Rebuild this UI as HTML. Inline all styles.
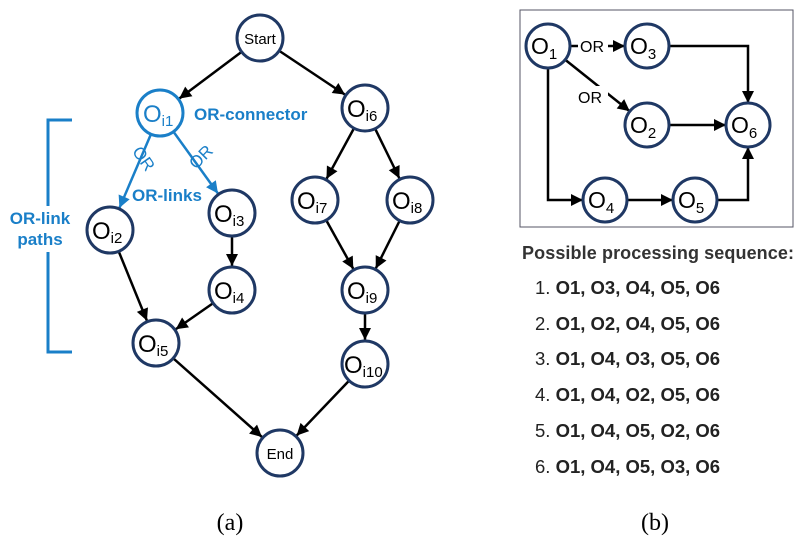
<!DOCTYPE html>
<html><head><meta charset="utf-8"><style>
body{margin:0;background:#fff}
svg{display:block}
text{font-family:"Liberation Sans","DejaVu Sans",sans-serif}
</style></head><body>
<svg width="801" height="543" viewBox="0 0 801 543" xmlns="http://www.w3.org/2000/svg">
<defs>
<marker id="a" markerUnits="userSpaceOnUse" markerWidth="60" markerHeight="20" viewBox="0 0 60 20" refX="36" refY="10" orient="auto" overflow="visible"><path d="M0,4 L12,10 L0,16 Z" fill="#000"/></marker>
<marker id="ab" markerUnits="userSpaceOnUse" markerWidth="60" markerHeight="20" viewBox="0 0 60 20" refX="36" refY="10" orient="auto" overflow="visible"><path d="M0,4 L12,10 L0,16 Z" fill="#1a7fc8"/></marker>
<marker id="c" markerUnits="userSpaceOnUse" markerWidth="60" markerHeight="20" viewBox="0 0 60 20" refX="34" refY="10" orient="auto" overflow="visible"><path d="M0,4 L12,10 L0,16 Z" fill="#000"/></marker>
</defs>
<g stroke="#000" stroke-width="2.5" fill="none">
<line x1="260" y1="38" x2="160" y2="113" marker-end="url(#a)"/>
<line x1="260" y1="38" x2="365" y2="108" marker-end="url(#a)"/>
<line x1="365" y1="108" x2="315" y2="200" marker-end="url(#a)"/>
<line x1="365" y1="108" x2="410" y2="200" marker-end="url(#a)"/>
<line x1="315" y1="200" x2="365" y2="290" marker-end="url(#a)"/>
<line x1="410" y1="200" x2="365" y2="290" marker-end="url(#a)"/>
<line x1="365" y1="290" x2="365" y2="364" marker-end="url(#a)"/>
<line x1="365" y1="364" x2="280" y2="453" marker-end="url(#a)"/>
<line x1="156" y1="343" x2="280" y2="453" marker-end="url(#a)"/>
<line x1="110" y1="230" x2="156" y2="343" marker-end="url(#a)"/>
<line x1="232" y1="213" x2="232" y2="290" marker-end="url(#a)"/>
<line x1="232" y1="290" x2="156" y2="343" marker-end="url(#a)"/>
</g>
<g stroke="#1a7fc8" stroke-width="2.5" fill="none">
<line x1="160" y1="113" x2="110" y2="230" marker-end="url(#ab)"/>
<line x1="160" y1="113" x2="232" y2="213" marker-end="url(#ab)"/>
<path d="M72,120 H48 V352 H72" stroke-width="3"/>
</g>
<rect x="14" y="206" width="64" height="46" fill="#fff"/>
<g fill="#fff" stroke="#1f3864" stroke-width="3">
<circle cx="260" cy="38" r="23"/>
<circle cx="365" cy="108" r="23"/>
<circle cx="110" cy="230" r="23"/>
<circle cx="232" cy="213" r="23"/>
<circle cx="315" cy="200" r="23"/>
<circle cx="410" cy="200" r="23"/>
<circle cx="232" cy="290" r="23"/>
<circle cx="365" cy="290" r="23"/>
<circle cx="156" cy="343" r="23"/>
<circle cx="365" cy="364" r="23"/>
<circle cx="280" cy="453" r="23"/>
<circle cx="160" cy="113" r="23" stroke="#1a7fc8"/>
</g>
<g font-size="24" fill="#000">
<text x="260" y="44" font-size="15" text-anchor="middle">Start</text>
<text x="280" y="459" font-size="15" text-anchor="middle">End</text>
<text x="143" y="122" fill="#1a7fc8">O<tspan font-size="15" dy="4">i1</tspan></text>
<text x="347" y="117">O<tspan font-size="15" dy="4">i6</tspan></text>
<text x="92" y="239">O<tspan font-size="15" dy="4">i2</tspan></text>
<text x="214" y="222">O<tspan font-size="15" dy="4">i3</tspan></text>
<text x="297" y="209">O<tspan font-size="15" dy="4">i7</tspan></text>
<text x="392" y="209">O<tspan font-size="15" dy="4">i8</tspan></text>
<text x="214" y="299">O<tspan font-size="15" dy="4">i4</tspan></text>
<text x="347" y="299">O<tspan font-size="15" dy="4">i9</tspan></text>
<text x="138" y="352">O<tspan font-size="15" dy="4">i5</tspan></text>
<text x="344" y="373">O<tspan font-size="15" dy="4">i10</tspan></text>
</g>
<g fill="#1a7fc8" font-size="17" font-weight="bold">
<text x="194" y="120">OR-connector</text>
<text x="132" y="201">OR-links</text>
<text x="40" y="224" text-anchor="middle">OR-link</text>
<text x="40" y="245" text-anchor="middle">paths</text>
<text x="0" y="0" font-weight="normal" text-anchor="middle" transform="translate(139,162) rotate(55)">OR</text>
<text x="0" y="0" font-weight="normal" text-anchor="middle" transform="translate(205,161) rotate(-45)">OR</text>
</g>
<!-- (b) -->
<rect x="520" y="10" width="273" height="217" fill="none" stroke="#556" stroke-width="1"/>
<g stroke="#000" stroke-width="2.5" fill="none">
<line x1="548" y1="46" x2="647" y2="46" marker-end="url(#c)"/>
<line x1="548" y1="46" x2="647" y2="125" marker-end="url(#c)"/>
<polyline points="647,46 748,46 748,125" marker-end="url(#c)"/>
<line x1="647" y1="125" x2="748" y2="125" marker-end="url(#c)"/>
<polyline points="548,46 548,200 605,200" marker-end="url(#c)"/>
<line x1="605" y1="200" x2="695" y2="200" marker-end="url(#c)"/>
<polyline points="695,200 748,200 748,125" marker-end="url(#c)"/>
</g>
<rect x="578" y="36" width="30" height="20" fill="#fff"/>
<rect x="576" y="86" width="32" height="22" fill="#fff"/>
<text x="580" y="52" font-size="16">OR</text>
<text x="578" y="103" font-size="16">OR</text>
<g fill="#fff" stroke="#1f3864" stroke-width="3">
<circle cx="548" cy="46" r="22"/><circle cx="647" cy="46" r="22"/>
<circle cx="647" cy="125" r="22"/><circle cx="748" cy="125" r="22"/>
<circle cx="605" cy="200" r="22"/><circle cx="695" cy="200" r="22"/>
</g>
<g font-size="23">
<text x="531" y="54">O<tspan font-size="15" dy="5">1</tspan></text>
<text x="630" y="54">O<tspan font-size="15" dy="5">3</tspan></text>
<text x="630" y="133">O<tspan font-size="15" dy="5">2</tspan></text>
<text x="731" y="133">O<tspan font-size="15" dy="5">6</tspan></text>
<text x="588" y="208">O<tspan font-size="15" dy="5">4</tspan></text>
<text x="678" y="208">O<tspan font-size="15" dy="5">5</tspan></text>
</g>
<text x="522" y="259" font-size="18" font-weight="bold" fill="#333" textLength="272">Possible processing sequence:</text>
<g font-size="18.5" fill="#222">
<text x="535" y="294">1. <tspan font-weight="bold">O1, O3, O4, O5, O6</tspan></text>
<text x="535" y="330">2. <tspan font-weight="bold">O1, O2, O4, O5, O6</tspan></text>
<text x="535" y="365">3. <tspan font-weight="bold">O1, O4, O3, O5, O6</tspan></text>
<text x="535" y="401">4. <tspan font-weight="bold">O1, O4, O2, O5, O6</tspan></text>
<text x="535" y="437">5. <tspan font-weight="bold">O1, O4, O5, O2, O6</tspan></text>
<text x="535" y="473">6. <tspan font-weight="bold">O1, O4, O5, O3, O6</tspan></text>
</g>
<text x="230" y="530" font-size="24" text-anchor="middle" style="font-family:'Liberation Serif',serif">(a)</text>
<text x="655" y="530" font-size="24" text-anchor="middle" style="font-family:'Liberation Serif',serif">(b)</text>
</svg>
</body></html>
